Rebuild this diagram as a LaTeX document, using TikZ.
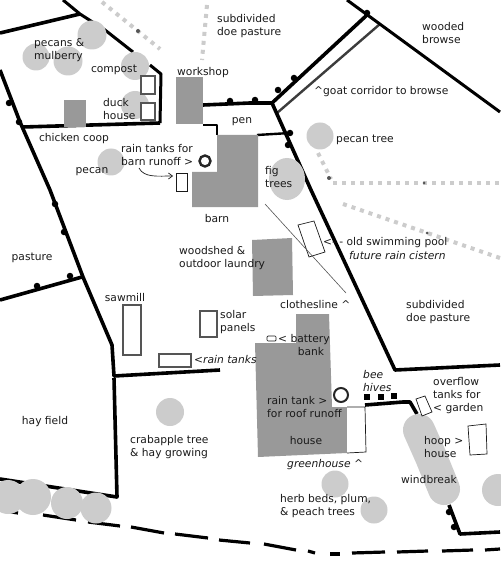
\documentclass[tikz,border=0pt]{standalone}
\usepackage{fontspec}
\setmainfont{DejaVu Sans}
\usetikzlibrary{arrows.meta}
\definecolor{treegray}{HTML}{CCCCCC}
\definecolor{bldgray}{HTML}{999999}
\definecolor{boxgray}{HTML}{555555}
\definecolor{inkc}{HTML}{1A1A1A}
\tikzset{
  x=1pt,y=-1pt,
  fence/.style={line width=3.6pt,black,line join=round},
  thinfence/.style={line width=2.4pt,black,line join=round},
  post/.style={circle,fill=black,draw=none,inner sep=0pt,minimum size=6.5pt},
  bdash/.style={line width=3.2pt,black},
  tree/.style={fill=treegray,draw=none},
  building/.style={fill=bldgray,draw=none},
  tank/.style={draw=boxgray,line width=1.6pt,fill=white},
  thinbox/.style={draw=inkc,line width=0.7pt,fill=white},
  dotline/.style={draw=treegray,line width=4pt,dash pattern=on 4pt off 5pt},
  lab/.style={anchor=west,inner sep=0pt,align=left,text=inkc,yshift=-1.2pt,font=\fontsize{10.7}{13}\selectfont},
  labc/.style={lab,anchor=center,align=center},
}
\begin{document}
\begin{tikzpicture}
\useasboundingbox (0,0) rectangle (500,569);
\fill[white] (0,0) rectangle (500,569);
% dotted boundaries
\draw[dotline] (102,2) -- (160,49);
\draw[dotline] (207,5) -- (202,60);
\draw[dotline] (318,153) -- (331,179);
\draw[dotline] (333,183) -- (500,183);
\draw[dotline] (343,204) -- (500,258);
\node[post,minimum size=4pt,fill=boxgray] (d1) at (138,31) {};
\node[post,minimum size=4pt,fill=boxgray] (d2) at (329,178) {};
\node[post,minimum size=3pt,fill=boxgray] (d3) at (424,183) {};
\node[post,minimum size=3pt,fill=boxgray] (d4) at (427,233) {};
% fences
\draw[fence] (0,33) -- (80,14);
\draw[fence,line width=3pt] (63,0) -- (80,14) -- (105,30) -- (133,52);
\draw[fence,line width=3pt] (150,65) -- (161,74) -- (160,123);
\draw[fence] (160,123) -- (23,127);
\draw[fence] (0,70) -- (20,122) -- (50,190) -- (83,277) -- (112,345) -- (114,376) -- (220,370);
\draw[fence] (114,378) -- (117,497) -- (0,479);
\draw[fence] (0,300) -- (82,277);
\draw[fence] (203,105) -- (250,103) -- (272,103) -- (367,15);
\draw[thinfence,draw=boxgray!70!black] (277,113) -- (380,24);
\draw[fence,line width=3pt] (347,0) -- (500,112);
\draw[fence] (272,103) -- (311,190) -- (395,370) -- (500,365);
\draw[fence,line width=2.4pt] (257,135) -- (290,133);
\draw[fence,line width=2.4pt] (203,125) -- (217,125) -- (217,135);
\draw[fence] (365,405) -- (403,402) -- (410,402) -- (417,414);
\draw[fence] (449,505) -- (460,534) -- (500,532);
% posts
\foreach \n/\p in {a/{9,103},b/{19,122},c/{55,204},e/{64,232},f/{70,276},g/{37,286},h/{230,101},i/{255,100},j/{278,90},k/{294,78},l/{367,13},m/{290,133},n/{288,145},o/{449,512},q/{454,527}}{
  \node[post] (p\n) at (\p) {};
}
% bottom dashed fence
\draw[bdash] (0,510) -- (18,513);
\draw[bdash] (43,515) -- (76,520);
\draw[bdash] (88,522) -- (120,526);
\draw[bdash] (131,527) -- (164,533);
\draw[bdash] (175,534) -- (208,538);
\draw[bdash] (219,540) -- (250,543);
\draw[bdash] (264,544) -- (296,550);
\draw[bdash] (308,551) -- (315,553);
\draw[bdash] (330,554) -- (340,554);
\draw[bdash] (352,553) -- (385,552);
\draw[bdash] (397,552) -- (428,551);
\draw[bdash] (442,551) -- (473,550);
\draw[bdash] (485,550) -- (500,549);
% trees
\fill[tree] (92,35) circle (14.5);
\fill[tree] (36,57) circle (13.5);
\fill[tree] (68,61) circle (14.5);
\fill[tree] (135,66) circle (14);
\fill[tree] (135,105) circle (14);
\fill[tree] (111,162) circle (13.5);
\fill[tree] (320,136) circle (13.5);
\fill[tree] (287,179) ellipse (18 and 21);
\fill[tree] (170,412) circle (14);
\fill[tree] (8,497) circle (17);
\fill[tree] (33,497) circle (18);
\fill[tree] (67,503) circle (16);
\fill[tree] (96,508) circle (15.5);
\fill[tree] (335,484) circle (13.5);
\fill[tree] (374,510) circle (13.5);
\fill[tree] (498,490) circle (16);
\draw[treegray,line width=32pt,line cap=round,line join=round] (419,430) -- (431,457) -- (444,489);
% buildings
\fill[building] (176,77) rectangle (203,124);
\fill[building] (64,100) rectangle (86,127);
\fill[building] (217,135) -- (258,135) -- (258,207) -- (192,207) -- (192,172) -- (217,172) -- cycle;
\fill[building] (252,240) -- (292,238) -- (293,295) -- (253,296) -- cycle;
\fill[building] (296,314) -- (329,314) -- (332,407) -- (347,407) -- (347,453) -- (258,457) -- (255,343) -- (296,343) -- cycle;
% boxes
\draw[tank] (141,76) rectangle (155,94);
\draw[tank] (141,103) rectangle (155,120);
\draw[tank,line width=1.4pt] (123,305) rectangle (141,355);
\draw[tank,line width=1.4pt] (200,311) rectangle (217,337);
\draw[tank,line width=1.4pt] (159,354) rectangle (191,367);
\draw[thinbox] (176,173) rectangle (187,191);
\draw[thinbox] (298,225) -- (314,221) -- (325,252) -- (309,257) -- cycle;
\draw[boxgray,line width=0.6pt] (265,204) -- (346,293);
\draw[thinbox,rounded corners=1pt] (267,336) rectangle (276,341);
\draw[thinbox] (347,407) -- (365,407) -- (366,452) -- (347,453);
\draw[thinbox] (416,399) -- (425,396) -- (432,412) -- (422,416) -- cycle;
\draw[thinbox] (468,426) -- (486,424) -- (487,454) -- (470,455) -- cycle;
% round tanks
\draw[line width=2.4pt,draw=black!85,fill=white] (205,161) circle (5.5);
\draw[line width=2pt,draw=black!85,fill=white] (341,395) circle (7);
% hives
\fill[black] (364,394) rectangle (370,400);
\fill[black] (378,394) rectangle (384,400);
\fill[black] (391,393) rectangle (397,399);
% labels
\node[lab] (t1) at (34,48.5) {pecans \&\\mulberry};
\node[labc] (t2) at (114,69) {compost};
\node[labc] (t3) at (203,71) {workshop};
\node[lab] (t4) at (103,107.5) {duck\\house};
\node[labc] (t5) at (74,137) {chicken coop};
\node[labc] (t6) at (92,170) {pecan};
\node[lab] (t7) at (121,153.5) {rain tanks for\\barn runoff >};
\node[labc] (t8) at (242,120) {pen};
\node[labc] (t9) at (217,217) {barn};
\node[lab] (t10) at (265,176) {fig\\trees};
\node[lab] (t11) at (217,25) {subdivided\\doe pasture};
\node[lab] (t12) at (422,32) {wooded\\browse};
\node[lab] (t13) at (314,90) {\textasciicircum goat corridor to browse};
\node[lab] (t14) at (336,139) {pecan tree};
\node[labc] (t15) at (32,257) {pasture};
\node[lab] (t16) at (179,256.5) {woodshed \&\\outdoor laundry};
\node[labc] (t17) at (125,296) {sawmill};
\node[lab] (t18) at (220,320.5) {solar\\panels};
\node[lab] (t19) at (194,358) {<\textit{rain tanks}};
\node[lab] (t20) at (323,241) {<- - old swimming pool};
\node[lab] (t21) at (349,254) {\textit{future rain cistern}};
\node[lab] (t22) at (280,303) {clothesline \textasciicircum};
\node[lab] (t23) at (406,311) {subdivided\\doe pasture};
\node[lab] (t24) at (278,338) {< battery};
\node[labc] (t25) at (311,350) {bank};
\node[lab] (t26) at (267,405.5) {rain tank >\\for roof runoff};
\node[labc] (t27) at (306,439) {house};
\node[lab] (t28) at (287,463) {\textit{greenhouse} \textasciicircum};
\node[lab] (t29) at (363,379.5) {\textit{bee}\\\textit{hives}};
\node[lab] (t30) at (433,394) {overflow\\tanks for\\< garden};
\node[lab] (t31) at (424,446) {hoop >\\house};
\node[lab] (t32) at (401,478) {windbreak};
\node[lab] (t33) at (280,504.5) {herb beds, plum,\\\& peach trees};
\node[labc] (t34) at (45,420) {hay field};
\node[lab] (t35) at (130,446) {crabapple tree\\\& hay growing};
% curved arrow
\coordinate (ca) at (139,168);
\coordinate (cb) at (173,176);
\draw[inkc,line width=0.7pt,-{Straight Barb[length=4pt,width=6pt]}] (ca) .. controls (144,178) and (158,176) .. (cb);
\end{tikzpicture}
\end{document}
